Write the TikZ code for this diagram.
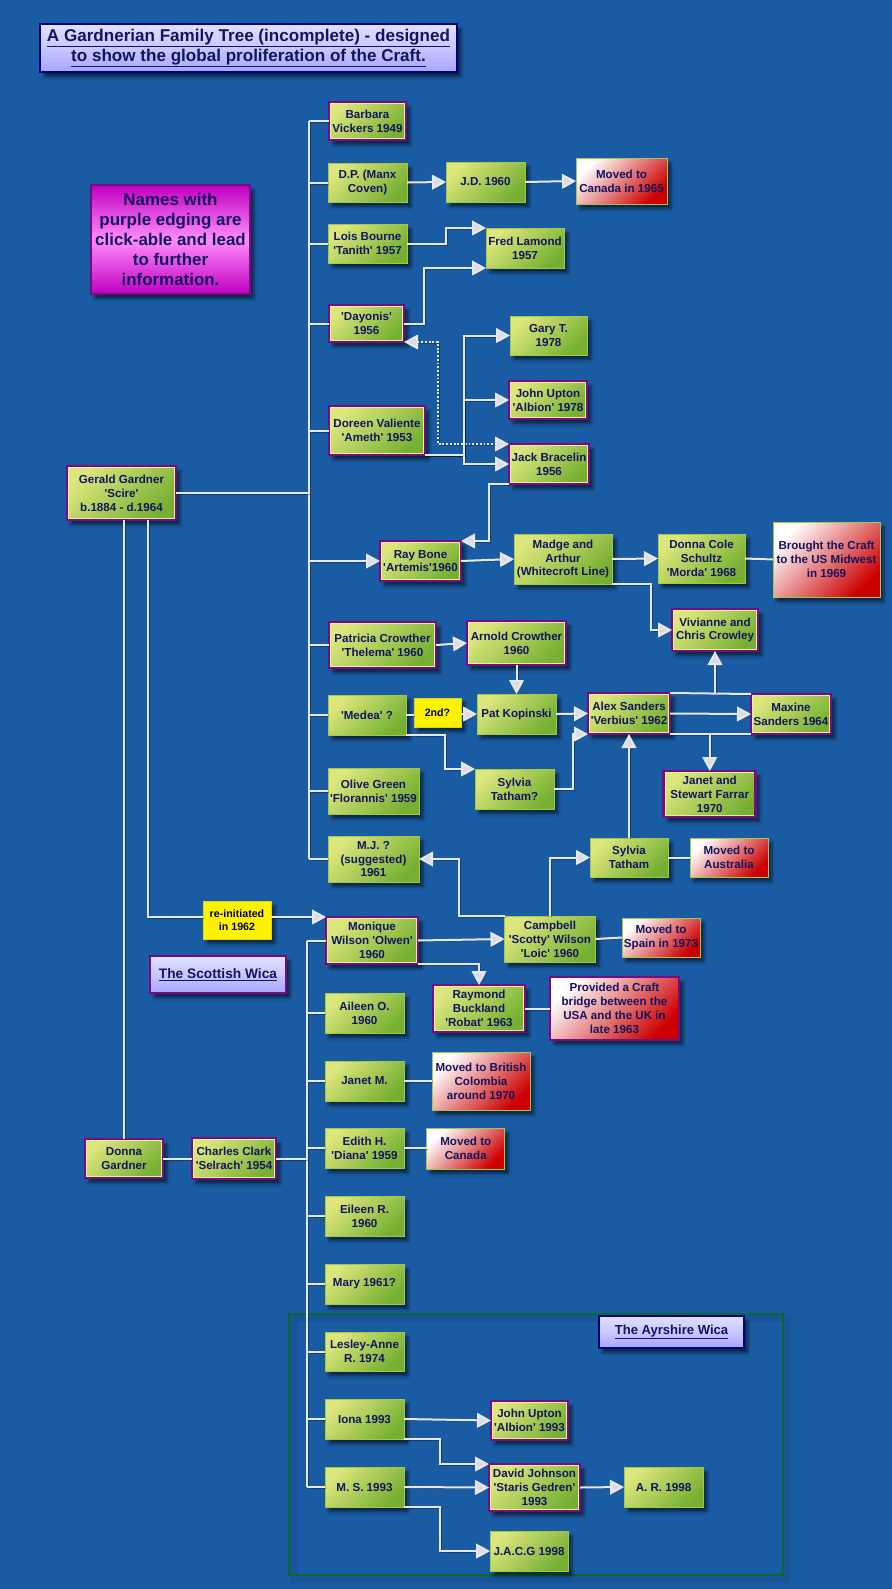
\documentclass[tikz,border=0pt]{standalone}
\usepackage{fontspec}
\usepackage{tikz}
\usetikzlibrary{positioning}
\usetikzlibrary{arrows.meta}
\usetikzlibrary{shadows,shadows.blur}
\newfontfamily\treefont{Liberation Sans}
\definecolor{seablue}{HTML}{1A5CA4}
\definecolor{inkblue}{HTML}{14145E}
\definecolor{leafpale}{HTML}{DCE67C}
\definecolor{leafdark}{HTML}{76B032}
\definecolor{leafedge}{HTML}{A6C840}
\definecolor{edgepurple}{HTML}{7A0A80}
\definecolor{edgenavy}{HTML}{000080}
\definecolor{palerim}{HTML}{E8F0A0}
\definecolor{wirewhite}{HTML}{E8E8F0}
\definecolor{tipgrey}{HTML}{DCDCE6}
\definecolor{framegreen}{HTML}{056A2C}
\tikzset{
  softshadow/.style={blur shadow={shadow xshift=3pt,shadow yshift=-3.5pt,shadow blur radius=2pt,shadow opacity=55}},
  namebox/.style={rectangle,softshadow,inner sep=0pt,outer sep=0pt,align=center,text=inkblue,
    font=\treefont\bfseries\fontsize{8.7}{10.4}\selectfont},
  plainbox/.style={namebox,draw=leafedge,line width=0.7pt,top color=leafpale,bottom color=leafdark,shading angle=45},
  linkbox/.style={namebox,draw=edgepurple,line width=1.9pt,top color=leafpale,bottom color=leafdark,shading angle=45,
    path picture={\draw[palerim,line width=3pt] (path picture bounding box.south west) rectangle (path picture bounding box.north east);}},
  movebox/.style={namebox,draw=leafedge,line width=0.7pt,top color=white,bottom color=red!80!black,shading angle=45},
  movelink/.style={movebox,draw=edgepurple,line width=1.9pt},
  notebox/.style={namebox,draw=yellow!85!black,line width=0.5pt,fill=yellow,text=black!80!blue,font=\treefont\bfseries\fontsize{8}{10.2}\selectfont},
  headbox/.style={namebox,top color=blue!12,bottom color=blue!35,middle color=blue!22,line width=1.9pt},
  wire/.style={draw=wirewhite,line width=1.5pt,
    preaction={draw=black,opacity=.3,transform canvas={xshift=1pt,yshift=-1pt}}},
  arrow/.style={wire,-{Triangle[length=10.5pt,width=11pt,fill=tipgrey]}},
  dotwire/.style={wire,dash pattern=on 1.4pt off 1.4pt,{Triangle[length=10.5pt,width=11pt,fill=tipgrey]}-{Triangle[length=10.5pt,width=11pt,fill=tipgrey]}},
}
\begin{document}
\begin{tikzpicture}[x=0.75pt,y=-0.75pt]
    % page and background
    \useasboundingbox (0,0) rectangle (892,1589);
    \fill[seablue] (0,0) rectangle (892,1589);

    \node[draw=framegreen,line width=2pt,minimum width=0.75pt*494,minimum height=0.75pt*261,
        preaction={draw=black,opacity=.07,line width=5pt,transform canvas={xshift=3.5pt,yshift=-3.5pt}}] (ayrframe) at (536,1444.5) {};

    % headings
    \node[headbox,draw=edgenavy,minimum width=0.75pt*417,minimum height=0.75pt*48,font=\treefont\bfseries\fontsize{12.8}{15}\selectfont]
        (title) at (248.5,48) {\underline{A Gardnerian Family Tree (incomplete) - designed}\\\underline{to show the global proliferation of the Craft.}};
    \node[namebox,draw=edgepurple,line width=1.9pt,minimum width=0.75pt*159,minimum height=0.75pt*109,
        top color=magenta!75!black,bottom color=magenta!75!black,middle color=magenta!45!white,font=\treefont\bfseries\fontsize{12.7}{15}\selectfont]
        (legend) at (170.5,239.5) {Names with\\purple edging are\\click-able and lead\\to further\\information.};
    \node[headbox,draw=edgepurple,minimum width=0.75pt*136,minimum height=0.75pt*37,font=\treefont\bfseries\fontsize{10.3}{12}\selectfont]
        (scottish) at (218,974.5) {\underline{The Scottish Wica}};
    \node[headbox,draw=edgenavy,minimum width=0.75pt*145,minimum height=0.75pt*32,font=\treefont\bfseries\fontsize{9.8}{12}\selectfont]
        (ayrshire) at (671.5,1332) {\underline{The Ayrshire Wica}};

    % people with a plain edge
    \foreach \pos/\w/\h/\name/\label in {
        {(367.5,182.5)/79/39/dp/D.P. (Manx\\Coven)}, {(485.5,182)/79/40/jd/J.D. 1960},
        {(367.5,243.5)/79/39/lois/Lois Bourne\\'Tanith' 1957}, {(525,248)/78/40/fred/Fred Lamond\\1957},
        {(548.5,335.5)/77/39/gary/Gary T.\\1978}, {(563,559)/98/50/madge/Madge and\\Arthur\\(Whitecroft Line)},
        {(701.5,558.5)/87/49/donnacole/Donna Cole\\Schultz\\'Morda' 1968}, {(516.5,714)/79/40/pat/Pat Kopinski},
        {(367,715)/78/40/medea/'Medea' ?}, {(514.5,789)/79/40/sylviaq/Sylvia\\Tatham?},
        {(373.5,791)/91/46/olive/Olive Green\\'Florannis' 1959}, {(373.5,859)/91/46/mj/M.J. ?\\(suggested)\\1961},
        {(629,857.5)/78/39/sylviat/Sylvia\\Tatham}, {(550,939)/91/46/campbell/Campbell\\'Scotty' Wilson\\'Loic' 1960},
        {(364.5,1013)/79/40/aileen/Aileen O.\\1960}, {(364.5,1081)/79/40/janetm/Janet M.},
        {(364.5,1148)/79/40/edith/Edith H.\\'Diana' 1959}, {(364.5,1216)/79/40/eileen/Eileen R.\\1960},
        {(364.5,1284)/79/40/mary/Mary 1961?}, {(364.5,1351.5)/79/39/lesley/Lesley-Anne\\R. 1974},
        {(364.5,1419)/79/40/iona/Iona 1993}, {(364.5,1487)/79/40/ms/M. S. 1993},
        {(663.5,1487)/79/40/ar/A. R. 1998}, {(529,1551)/78/40/jacg/J.A.C.G 1998}}
        \node[plainbox,minimum width=0.75pt*\w,minimum height=0.75pt*\h] (\name) at \pos {\label};

    % people with a purple edge
    \foreach \pos/\w/\h/\name/\label in {
        {(121.5,493)/109/54/gerald/Gerald Gardner\\'Scire'\\b.1884 - d.1964}, {(367.5,121)/77/38/barbara/Barbara\\Vickers 1949},
        {(366.5,323.5)/75/37/dayonis/'Dayonis'\\1956}, {(377,430.5)/96/49/doreen/Doreen Valiente\\'Ameth' 1953},
        {(548,400)/78/38/uptonA/John Upton\\'Albion' 1978}, {(549,464)/80/40/jack/Jack Bracelin\\1956},
        {(420.5,561)/81/40/ray/Ray Bone\\'Artemis'1960}, {(382.5,645)/107/46/patricia/Patricia Crowther\\'Thelema' 1960},
        {(516.5,643)/99/44/arnold/Arnold Crowther\\1960}, {(715,630)/86/42/vivianne/Vivianne and\\Chris Crowley},
        {(629,713.5)/82/41/alex/Alex Sanders\\'Verbius' 1962}, {(791,714)/80/40/maxine/Maxine\\Sanders 1964},
        {(709.75,794)/92/46/farrar/Janet and\\Stewart Farrar\\1970}, {(372,940.5)/92/47/monique/Monique\\Wilson 'Olwen'\\1960},
        {(479,1008.5)/92/47/raymond/Raymond\\Buckland\\'Robat' 1963}, {(124,1158.5)/78/39/donnag/Donna\\Gardner},
        {(234,1158.5)/84/41/charles/Charles Clark\\'Selrach' 1954}, {(529.5,1420.5)/77/39/uptonB/John Upton\\'Albion' 1993},
        {(534.5,1487.5)/91/47/david/David Johnson\\'Staris Gedren'\\1993}}
        \node[linkbox,minimum width=0.75pt*\w,minimum height=0.75pt*\h] (\name) at \pos {\label};

    % notes about moves
    \foreach \pos/\w/\h/\name/\label in {
        {(621.5,181)/91/46/canadaA/Moved to\\Canada in 1965}, {(826.5,559.5)/107/75/brought/Brought the Craft\\to the US Midwest\\in 1969},
        {(729,857.5)/78/39/australia/Moved to\\Australia}, {(661,937.5)/78/39/spain/Moved to\\Spain in 1973},
        {(481,1081)/98/58/british/Moved to British\\Colombia\\around 1970}, {(465.75,1148.5)/78/41/canadaB/Moved to\\Canada}}
        \node[movebox,minimum width=0.75pt*\w,minimum height=0.75pt*\h] (\name) at \pos {\label};
    \node[movelink,minimum width=0.75pt*129,minimum height=0.75pt*63] (bridge) at (614.5,1008.5) {Provided a Craft\\bridge between the\\USA and the UK in\\late 1963};

    % yellow notes
    \node[notebox,minimum width=0.75pt*68,minimum height=0.75pt*38] (reinit) at (237,920) {re-initiated\\in 1962};
    \node[notebox,minimum width=0.75pt*47,minimum height=0.75pt*29] (second) at (437.5,712.5) {2nd?};

    % junction points
    \coordinate (trunkA) at (309,500);
    \coordinate (trunkB) at (306.5,1200);
    \coordinate (jogLois) at (446,235);
    \coordinate (jogDayonis) at (424,290);
    \coordinate (jogDot) at (438,400);
    \coordinate (jogDoreen) at (464,400);
    \coordinate (jogJack) at (489,510);
    \coordinate (jogMadge) at (651,610);
    \coordinate (jogMedea) at (445,750);
    \coordinate (jogSylvia) at (573,760);
    \coordinate (jogMJ) at (459,885);
    \coordinate (jogGerald) at (148,700);
    \coordinate (jogIona) at (440,1450);
    \coordinate (jogMS) at (440,1530);

    % two main lines
    \draw[wire] (trunkA |- barbara.west) -- (trunkA |- mj.west);
    \draw[wire] (trunkB |- monique.west) -- (trunkB |- ms.west);
    \draw[wire] (gerald.east) -- (trunkA |- gerald.east);
    \draw[wire] (charles.east) -- (trunkB |- charles.east);
    \draw[wire] (donnag.east) -- (charles.west);
    \draw[wire] (gerald.south -| donnag.north) -- (donnag.north);
    \foreach \dest in {barbara,dp,lois,dayonis,doreen,patricia,medea,olive,mj}
        \draw[wire] (trunkA |- \dest.west) -- (\dest.west);
    \foreach \dest in {monique,aileen,janetm,edith,eileen,mary,lesley,iona,ms}
        \draw[wire] (trunkB |- \dest.west) -- (\dest.west);
    \draw[arrow] (trunkA |- ray.west) -- (ray.west);

    % lines without arrow
    \foreach \source/\dest in {donnacole/brought,sylviat/australia,campbell/spain,raymond/bridge,janetm/british}
        \draw[wire] (\source.east) -- (\dest.west);
    \draw[wire] (edith.east) -- (edith.east -| canadaB.west);
    \draw[wire] (medea.east) -- (medea.east -| second.west);

    % straight arrows
    \foreach \source/\dest in {dp/jd,jd/canadaA,ray/madge,madge/donnacole,patricia/arnold,pat/alex,alex/maxine,monique/campbell,iona/uptonB,ms/david,david/ar}
        \draw[arrow] (\source.east) -- (\dest.west);
    \draw[arrow] (second.east |- pat.west) -- (pat.west);
    \draw[arrow] (arnold.south) -- (pat.north);
    \draw[arrow] (sylviat.north) -- (alex.south);

    % lines with corners
    \draw[arrow] (lois.east) -| (jogLois) |- (fred.north west);
    \draw[arrow] (dayonis.east) -| (jogDayonis) |- (fred.south west);
    \draw[dotwire] (dayonis.south east) -| (jogDot) |- (jack.north west);
    \foreach \dest in {gary,uptonA,jack}
        \draw[arrow] (doreen.south east) -| (jogDoreen) |- (\dest.west);
    \draw[arrow] (jack.south west) -| (jogJack) |- (ray.north east);
    \draw[arrow] (madge.south east) -| (jogMadge) |- (vivianne.west);
    \draw[arrow] (medea.south east) -| (jogMedea) |- (sylviaq.north west);
    \draw[arrow] (sylviaq.east) -| (jogSylvia) |- (alex.south west);
    \draw[wire] (alex.north east) -- (maxine.north west);
    \draw[wire] (alex.south east) -- (maxine.south west);
    \draw[arrow] (vivianne.south |- alex.north east) -- (vivianne.south);
    \draw[arrow] (farrar.north |- alex.south east) -- (farrar.north);
    \draw[arrow] (campbell.north) |- (sylviat.west);
    \draw[arrow] (campbell.north west) -| (jogMJ) |- (mj.east);
    \draw[arrow] (monique.south east) -| (raymond.north);
    \draw[wire] (jogGerald |- gerald.south) |- (reinit.west |- monique.north west);
    \draw[arrow] (reinit.east |- monique.north west) -- (monique.north west);
    \draw[arrow] (iona.south east) -| (jogIona) |- (david.north west);
    \draw[arrow] (ms.south east) -| (jogMS) |- (jacg.west);
\end{tikzpicture}
\end{document}
